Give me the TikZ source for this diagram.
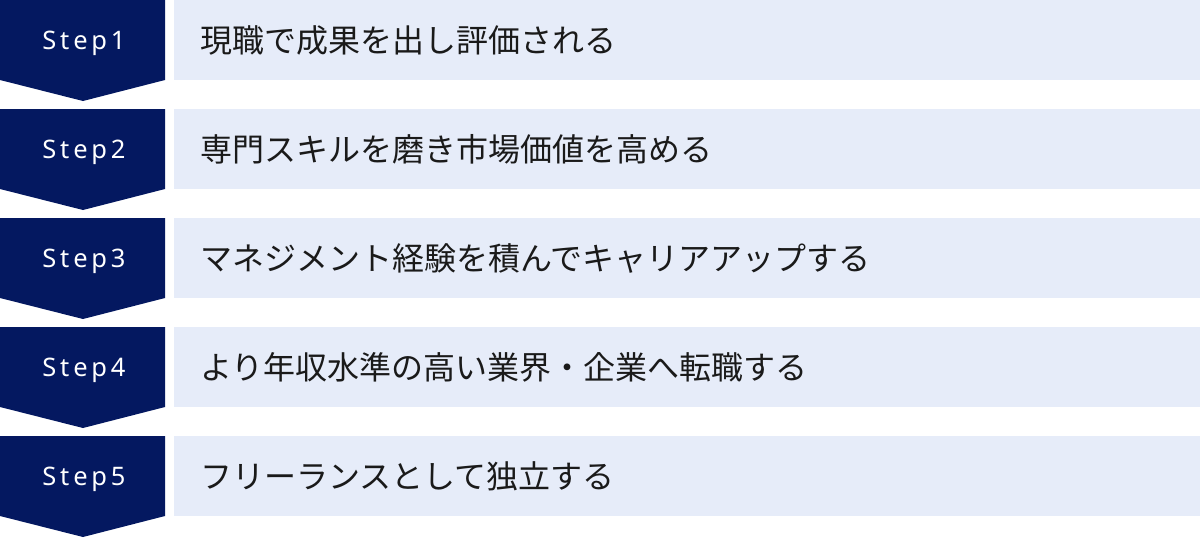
\documentclass[tikz,border=0pt]{standalone}
\usepackage{fontspec}
\newfontfamily\jpfont{Noto Sans CJK JP}
\newfontfamily\stepfont[LetterSpace=15]{Noto Sans}
\definecolor{navy}{RGB}{4,24,96}
\definecolor{lightbox}{RGB}{230,236,249}
\definecolor{textdark}{RGB}{26,26,26}
\tikzset{
  steplabel/.style={text=white, font=\stepfont\fontsize{25.5}{30}\selectfont, anchor=base, inner sep=0pt},
  itemtext/.style={text=textdark, font=\jpfont\fontsize{32}{38}\selectfont, anchor=base west, inner sep=0pt},
}
\begin{document}
\begin{tikzpicture}[x=1pt,y=-1pt]
\useasboundingbox (0,0) rectangle (1200,538);
\foreach \i/\t in {1/現職で成果を出し評価される,
                   2/専門スキルを磨き市場価値を高める,
                   3/マネジメント経験を積んでキャリアアップする,
                   4/より年収水準の高い業界・企業へ転職する,
                   5/フリーランスとして独立する} {
  \pgfmathsetmacro\top{(\i-1)*109}
  \fill[navy] (0,\top) -- (165,\top) -- (165,\top+80) -- (83,\top+101) -- (0,\top+80) -- cycle;
  \fill[lightbox] (174,\top) rectangle (1200,\top+80);
  \node[steplabel] (step\i) at (84,\top+49) {Step\i};
  \node[itemtext] (text\i) at (200,\top+52) {\t};
}
\end{tikzpicture}
\end{document}
